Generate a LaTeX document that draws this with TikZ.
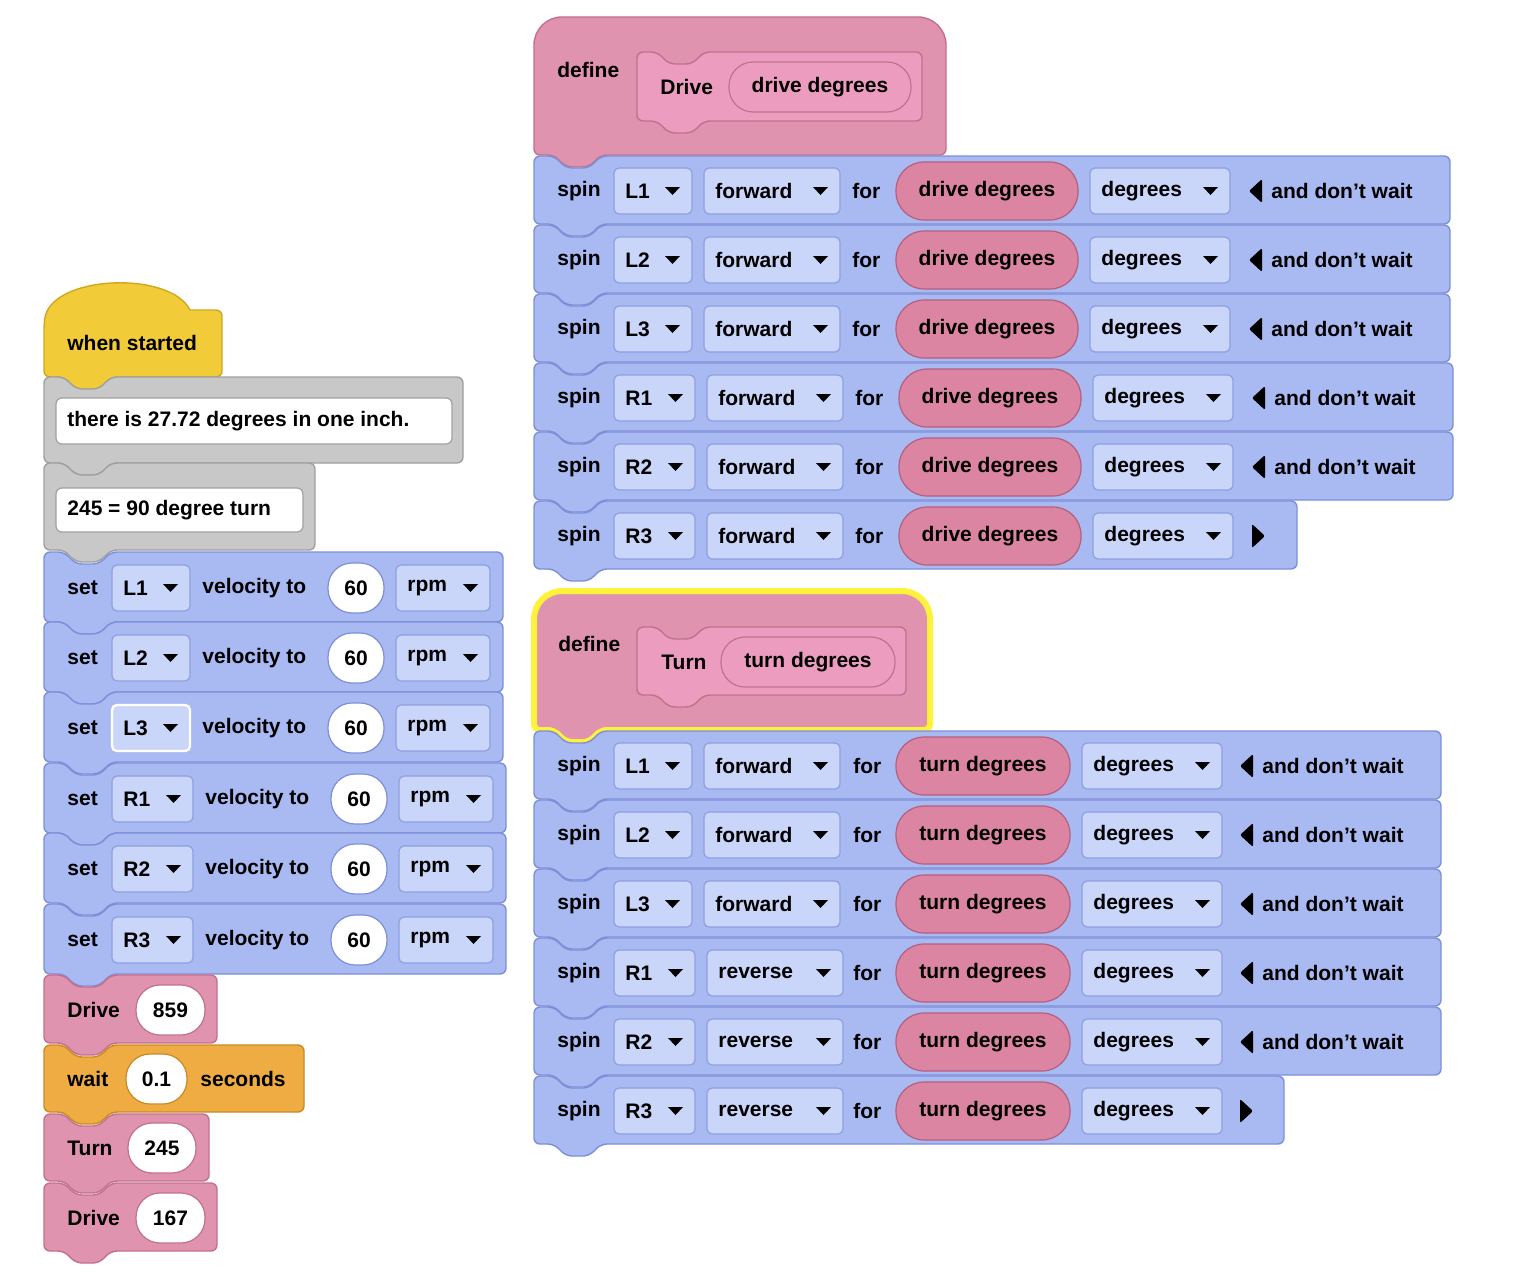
\documentclass[tikz,border=0pt]{standalone}
\usepackage{fontspec}
\setmainfont{Liberation Sans}
\definecolor{blueF}{HTML}{A9B9F2}
\definecolor{blueD}{HTML}{7D8FD8}
\definecolor{ddF}{HTML}{CAD5FA}
\definecolor{ddD}{HTML}{8E9FE2}
\definecolor{pinkF}{HTML}{DF93AE}
\definecolor{pinkD}{HTML}{C36F8E}
\definecolor{protoF}{HTML}{EC9DBF}
\definecolor{repF}{HTML}{DB85A2}
\definecolor{repD}{HTML}{B55F80}
\definecolor{yelF}{HTML}{F1CB38}
\definecolor{yelD}{HTML}{D0A820}
\definecolor{grayF}{HTML}{C8C8C8}
\definecolor{grayD}{HTML}{A0A0A0}
\definecolor{orF}{HTML}{EEAC42}
\definecolor{orD}{HTML}{C98A25}
\definecolor{hl}{HTML}{FFF23A}
\tikzset{t/.style={font=\fontsize{10.5}{12}\selectfont\bfseries,inner sep=0pt}}
\newcommand\blk[6]{\draw[fill=#5,draw=#6,line width=0.7pt,rounded corners=3pt] (#1,#2) -- ({#1+20},#2) -- ({#1+32},{#2+12}) -- ({#1+55},{#2+12}) -- ({#1+67},#2) -- ({#1+#3},#2) -- ({#1+#3},{#2+#4}) -- ({#1+67},{#2+#4}) -- ({#1+55},{#2+#4+12}) -- ({#1+32},{#2+#4+12}) -- ({#1+20},{#2+#4}) -- (#1,{#2+#4}) -- cycle;}
\newcommand\dd[4]{\draw[fill=ddF,draw=ddD,line width=0.6pt,rounded corners=2.5pt] (#1,{#3-23}) rectangle ({#2},{#3+23}); \node[t,anchor=west] at ({#1+11},#3) {#4}; \fill ({#2-27},{#3-4}) -- ({#2-12},{#3-4}) -- ({#2-19.5},{#3+4}) -- cycle;}
\newcommand\ov[6]{\draw[fill=#5,draw=#6,line width=0.6pt,rounded corners=12pt] ({#1},{#3-25}) rectangle ({#2},{#3+25}); \node[t] at ({(#1+#2)/2},#3) {#4};}
\newcommand\lt[2]{\fill[rounded corners=1pt] ({#1},#2) -- ({#1+13},{#2-12}) -- ({#1+13},{#2+12}) -- cycle;}
\newcommand\rt[2]{\fill[rounded corners=1pt] ({#1+13},#2) -- ({#1},{#2-12}) -- ({#1},{#2+12}) -- cycle;}
\begin{document}
\begin{tikzpicture}[x=0.5pt,y=-0.5pt]
\useasboundingbox (0,0) rectangle (1518,1284);
% ---- left stack
\draw[fill=yelF,draw=yelD,line width=0.7pt,rounded corners=3pt] (44,377) -- (44,325) [sharp corners] .. controls (50,275) and (170,270) .. (190,310) [rounded corners=3pt] -- (222,310) -- (222,377) -- (111,377) -- (99,389) -- (76,389) -- (64,377) -- cycle;
\node[t,anchor=west] at (67,343) {when started};
\blk{44}{377}{419}{86}{grayF}{grayD}
\draw[fill=white,draw=grayD,line width=0.6pt,rounded corners=3pt] (56,398) rectangle (452,444);
\node[t,anchor=west] at (67,421) {there is 27.72 degrees in one inch.};
\blk{44}{463}{271}{87}{grayF}{grayD}
\draw[fill=white,draw=grayD,line width=0.6pt,rounded corners=3pt] (56,488) rectangle (303,532);
\node[t,anchor=west] at (67,510) {245 = 90 degree turn};
\foreach \y/\m/\o in {552/L1/0,622/L2/0,692/L3/0,763/R1/3,833/R2/3,904/R3/3}{
  \pgfmathsetmacro\yc{\y+36}
  \blk{44}{\y}{459+\o}{70}{blueF}{blueD}
  \node[t,anchor=west] at (67,\yc) {set};
  \dd{112}{190+\o}{\yc}{\m}
  \node[t,anchor=west] at ({202+\o},\yc) {velocity to};
  \ov{328+\o}{384+\o}{\yc}{60}{white}{blueD}
  \dd{396+\o}{490+\o}{\yc}{rpm}
}
\draw[white,line width=1.2pt,rounded corners=2.5pt] (112,705) rectangle (190,751);
\blk{44}{975}{173}{68}{pinkF}{pinkD}
\node[t,anchor=west] at (67,1010) {Drive};
\ov{136}{205}{1010}{859}{white}{pinkD}
\blk{44}{1045}{260}{67}{orF}{orD}
\node[t,anchor=west] at (67,1079) {wait};
\ov{126}{187}{1079}{0.1}{white}{orD}
\node[t,anchor=west] at (200,1079) {seconds};
\blk{44}{1114}{165}{67}{pinkF}{pinkD}
\node[t,anchor=west] at (67,1148) {Turn};
\ov{128}{196}{1148}{245}{white}{pinkD}
\blk{44}{1183}{173}{68}{pinkF}{pinkD}
\node[t,anchor=west] at (67,1218) {Drive};
\ov{136}{205}{1218}{167}{white}{pinkD}
% ---- define Drive
\draw[fill=pinkF,draw=pinkD,line width=0.7pt] [rounded corners=14pt] (534,155) -- (534,17) -- (946,17) [rounded corners=3pt] -- (946,155) -- (601,155) -- (589,167) -- (566,167) -- (554,155) -- cycle;
\node[t,anchor=west] at (557,70) {define};
\blk{637}{52}{285}{69}{protoF}{pinkD}
\node[t,anchor=west] at (660,87) {Drive};
\ov{729}{911}{87}{drive degrees}{protoF}{pinkD}
\foreach \y/\m/\o/\w in {156/L1/0/916,225/L2/0/916,294/L3/0/916,363/R1/3/919,432/R2/3/919,501/R3/3/763}{
  \pgfmathsetmacro\yc{\y+35}
  \blk{534}{\y}{\w}{68}{blueF}{blueD}
  \node[t,anchor=west] at (557,\yc) {spin};
  \dd{614}{692+\o}{\yc}{\m}
  \dd{704+\o}{840+\o}{\yc}{forward}
  \node[t,anchor=west] at ({852+\o},\yc) {for};
  \draw[fill=repF,draw=repD,line width=0.6pt,rounded corners=14pt] ({896+\o},{\yc-29}) rectangle ({1078+\o},{\yc+29});
  \node[t] at ({987+\o},\yc) {drive degrees};
  \dd{1090+\o}{1230+\o}{\yc}{degrees}
}
\foreach \y/\o in {156/0,225/0,294/0,363/3,432/3}{
  \pgfmathsetmacro\yc{\y+35}
  \lt{1249+\o}{\yc}
  \node[t,anchor=west] at ({1271+\o},\yc) {and don't wait};
}
\rt{1252}{536}
% ---- define Turn
\draw[fill=pinkF,draw=hl,line width=3pt] [rounded corners=14pt] (534,730) -- (534,591) -- (930,591) [rounded corners=3pt] -- (930,730) -- (601,730) -- (589,742) -- (566,742) -- (554,730) -- cycle;
\node[t,anchor=west] at (558,644) {define};
\blk{637}{627}{269}{68}{protoF}{pinkD}
\node[t,anchor=west] at (661,662) {Turn};
\ov{721}{895}{662}{turn degrees}{protoF}{pinkD}
\foreach \y/\m/\d/\o/\w in {731/L1/forward/0/907,800/L2/forward/0/907,869/L3/forward/0/907,938/R1/reverse/3/907,1007/R2/reverse/3/907,1076/R3/reverse/3/750}{
  \pgfmathsetmacro\yc{\y+35}
  \blk{534}{\y}{\w}{68}{blueF}{blueD}
  \node[t,anchor=west] at (557,\yc) {spin};
  \dd{614}{692+\o}{\yc}{\m}
  \dd{704+\o}{840+\o}{\yc}{\d}
  \node[t,anchor=west] at (853,\yc) {for};
  \draw[fill=repF,draw=repD,line width=0.6pt,rounded corners=14pt] (896,{\yc-29}) rectangle (1070,{\yc+29});
  \node[t] at (983,\yc) {turn degrees};
  \dd{1082}{1222}{\yc}{degrees}
}
\foreach \y in {731,800,869,938,1007}{
  \pgfmathsetmacro\yc{\y+35}
  \lt{1240}{\yc}
  \node[t,anchor=west] at (1262,\yc) {and don't wait};
}
\rt{1240}{1111}
\end{tikzpicture}
\end{document}
